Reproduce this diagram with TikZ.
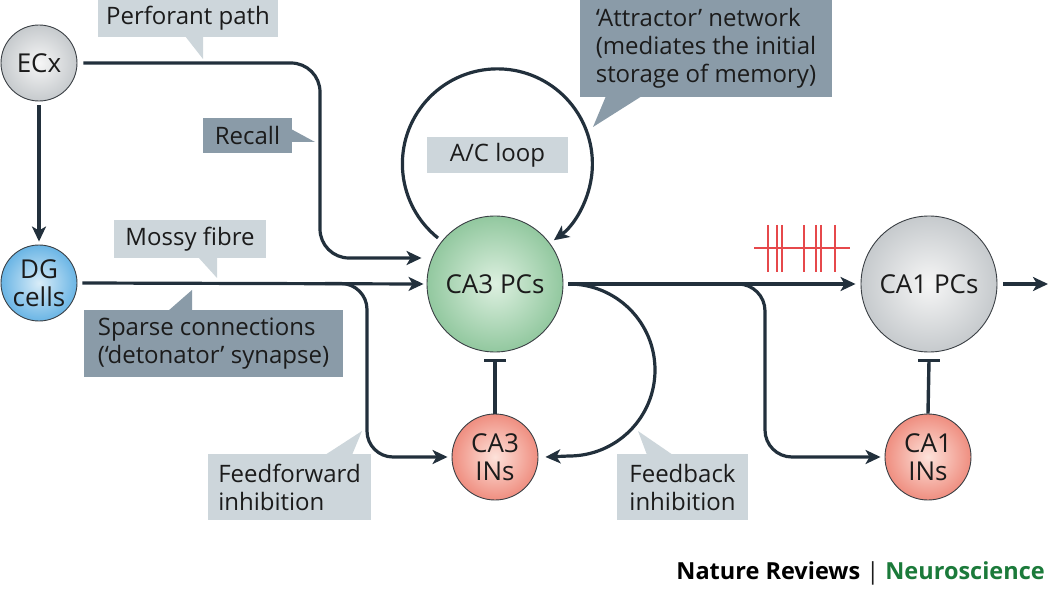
\documentclass[tikz,border=0pt]{standalone}
\usepackage{fontspec}
\setmainfont{Open Sans}
\usetikzlibrary{arrows.meta,calc}
\definecolor{lc}{HTML}{22303C}
\definecolor{txt}{HTML}{1B1B1B}
\definecolor{lightbox}{HTML}{CDD6DB}
\definecolor{darkbox}{HTML}{8A9BA8}
\definecolor{cellborder}{HTML}{3A3F44}
\definecolor{ecin}{HTML}{F6F6F6}
\definecolor{ecout}{HTML}{C6CACD}
\definecolor{dgin}{HTML}{D8ECF8}
\definecolor{dgout}{HTML}{6AB5E5}
\definecolor{cain}{HTML}{DDF0E0}
\definecolor{caout}{HTML}{92C89F}
\definecolor{inin}{HTML}{FDE2DA}
\definecolor{inout}{HTML}{EF8E80}
\definecolor{spikered}{HTML}{E6484B}
\definecolor{nrgreen}{HTML}{1B7A3A}
\begin{document}
\begin{tikzpicture}[x=1pt,y=-1pt,
  cell/.style={circle,draw=cellborder,line width=0.9pt,inner sep=0pt,align=center,
    text=txt,font=\fontsize{26}{28}\selectfont,shading=radial},
  arr/.style={draw=lc,line width=3.2pt,-{Stealth[length=15pt,width=14pt,inset=4pt]}},
  inh/.style={draw=lc,line width=3.4pt},
  tbar/.style={draw=lc,line width=3.8pt},
  callout/.style={inner sep=0pt,align=left,text=txt,font=\fontsize{24}{28}\selectfont},
  lightcall/.style={callout,fill=lightbox},
  darkcall/.style={callout,fill=darkbox},
  spike/.style={draw=spikered,line width=2pt}
]
\useasboundingbox (0,0) rectangle (1050,604);

% callout boxes
\node[lightcall,minimum width=180pt,minimum height=37pt] (perf) at (188,18.5) {Perforant path};
\fill[lightbox] (185,36) -- (203,36) -- (203,59) -- cycle;
\node[darkcall,minimum width=89pt,minimum height=35pt] (recall) at (247.5,135.5) {Recall};
\fill[darkbox] (291,129) -- (315,142) -- (291,142) -- cycle;
\node[lightcall,minimum width=152pt,minimum height=38pt] (mossy) at (190,239) {Mossy fibre};
\fill[lightbox] (198,257) -- (217,257) -- (217,278) -- cycle;
\node[darkcall,minimum width=259pt,minimum height=67pt] (sparse) at (213.5,343.5) {Sparse connections\\(‘detonator’ synapse)};
\fill[darkbox] (168,311) -- (192,290) -- (192,311) -- cycle;
\node[lightcall,minimum width=163pt,minimum height=66pt] (ffwd) at (289.5,487) {Feedforward\\inhibition};
\fill[lightbox] (325,455) -- (362,431) -- (352,455) -- cycle;
\node[lightcall,minimum width=131pt,minimum height=66pt] (fback) at (682.5,487) {Feedback\\inhibition};
\fill[lightbox] (647,455) -- (638,431) -- (673,455) -- cycle;
\node[lightcall,minimum width=141pt,minimum height=36pt] (acloop) at (497.5,155) {A/C loop};
\node[darkcall,minimum width=252pt,minimum height=97pt] (attr) at (706,48.5) {‘Attractor’ network\\(mediates the initial\\storage of memory)};
\fill[darkbox] (606,96) -- (593,127) -- (642,96) -- cycle;

% cells
\node[cell,minimum size=76pt,inner color=ecin,outer color=ecout] (ecx) at (39,63) {ECx};
\node[cell,minimum size=76pt,inner color=dgin,outer color=dgout] (dg) at (39,283) {DG\\cells};
\node[cell,minimum size=136pt,inner color=cain,outer color=caout] (ca3) at (495,284) {CA3 PCs};
\node[cell,minimum size=86pt,inner color=inin,outer color=inout] (ca3in) at (495,457) {CA3\\INs};
\node[cell,minimum size=136pt,inner color=ecin,outer color=ecout] (ca1) at (929,284) {CA1 PCs};
\node[cell,minimum size=86pt,inner color=inin,outer color=inout] (ca1in) at (928,457) {CA1\\INs};

% connectors
\draw[arr] ([yshift=-4pt]ecx.south) -- ([yshift=3pt]dg.north);
\draw[arr,rounded corners=29pt] ([xshift=6pt]ecx.east) -| (320,258) -- ($(ca3.west)+(-5,-26)$);
\draw[arr] ([xshift=5pt]dg.east) -- ([xshift=-3pt]ca3.west);
\coordinate (ffb) at (325,283.5);
\draw[arr,rounded corners=26pt] (ffb) -| (367,457) -- ([xshift=-4pt]ca3in.west);
\draw[arr] (438,238) arc[start angle=128.7,end angle=413.5,radius=95];
\draw[arr] ([xshift=5pt]ca3.east) -- ([xshift=-5pt]ca1.west);
\draw[arr] (569,284) arc[start angle=270,end angle=450,radius=86] -- ([xshift=7pt]ca3in.east);
\coordinate (fbb) at (715,284);
\draw[arr,rounded corners=27pt] (fbb) -| (765,457) -- ([xshift=-4pt]ca1in.west);
\coordinate (out) at (1048,284);
\draw[arr] ([xshift=6pt]ca1.east) -- (out);
% inhibitory connections (T ends)
\coordinate (t3) at ([yshift=-8pt]ca3.south);
\coordinate (t1) at ([yshift=-8pt]ca1.south);
\draw[inh] (ca3in.north) -- (t3);
\draw[tbar] ([xshift=-11pt]t3) -- ([xshift=11pt]t3);
\draw[inh] (ca1in.north) -- (t1);
\draw[tbar] ([xshift=-11pt]t1) -- ([xshift=11pt]t1);

% spike train
\draw[spike] (754,248) -- (850,248);
\foreach \x in {768,777,782,804,816,821,835} \draw[spike] (\x,225) -- (\x,272);

% credit
\node[anchor=base east,inner sep=0pt,font=\fontsize{23.5}{28}\selectfont] (credit) at (1045,579)
  {\textbf{Nature Reviews} {\color{txt}|} \textcolor{nrgreen}{\textbf{Neuroscience}}};
\end{tikzpicture}
\end{document}
